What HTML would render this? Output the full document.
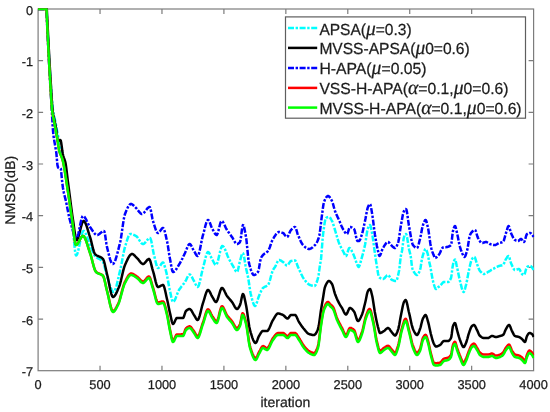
<!DOCTYPE html>
<html><head><meta charset="utf-8"><title>NMSD curves</title>
<style>html,body{margin:0;padding:0;background:#fff}svg{display:block}text{font-family:"Liberation Sans",Arial,Helvetica,sans-serif;fill:#1c1c1c;stroke:#1c1c1c;stroke-width:.25px;text-rendering:geometricPrecision}.gk{font-family:"Liberation Serif","DejaVu Serif",serif;font-style:italic;font-size:20px}</style></head><body>
<svg width="550" height="412" viewBox="0 0 550 412">
<rect width="550" height="412" fill="#fff"/>
<defs><clipPath id="c"><rect x="37.5" y="8.3" width="496.7" height="362.4"/></clipPath></defs>
<g stroke="#7c7c7c" stroke-width="1.2" fill="none">
<rect x="38.1" y="9.0" width="495.5" height="361.7"/>
<path d="M100.04 370.70v-5.0M100.04 9.00v5.0M161.97 370.70v-5.0M161.97 9.00v5.0M223.91 370.70v-5.0M223.91 9.00v5.0M285.85 370.70v-5.0M285.85 9.00v5.0M347.79 370.70v-5.0M347.79 9.00v5.0M409.73 370.70v-5.0M409.73 9.00v5.0M471.66 370.70v-5.0M471.66 9.00v5.0M38.10 60.67h5.0M533.60 60.67h-5.0M38.10 112.34h5.0M533.60 112.34h-5.0M38.10 164.01h5.0M533.60 164.01h-5.0M38.10 215.69h5.0M533.60 215.69h-5.0M38.10 267.36h5.0M533.60 267.36h-5.0M38.10 319.03h5.0M533.60 319.03h-5.0"/>
</g>
<g clip-path="url(#c)" fill="none" stroke-linejoin="round" stroke-width="2.5">
<path d="M38.1 9.0L46.6 9.0L47.1 19.8L47.6 30.0L48.1 39.9L48.6 49.2L49.1 58.0L49.6 66.4L50.1 74.2L50.6 81.4L51.1 88.5L51.6 95.4L52.1 101.7L52.6 107.2L53.1 111.3L53.6 114.2L54.1 116.3L54.6 118.3L55.1 120.5L55.6 123.0L56.1 125.6L56.6 128.3L57.1 130.9L57.6 133.6L58.1 136.1L58.6 138.8L59.1 142.1L59.6 146.1L60.1 149.5L60.6 151.7L61.1 153.3L61.6 154.7L62.1 155.9L62.6 157.3L63.1 158.8L63.6 160.9L64.1 163.3L64.6 166.2L65.1 169.3L65.6 172.7L66.1 176.3L66.6 179.9L67.1 183.6L67.6 187.2L68.1 190.7L68.6 194.2L69.1 197.7L69.6 201.2L70.1 204.8L70.6 208.5L71.1 212.2L71.6 216.0L72.1 220.0L72.6 224.6L73.1 230.1L73.6 235.9L74.1 241.8L74.6 247.1L75.1 251.5L75.6 254.4L76.1 255.5L76.6 255.2L77.1 254.3L77.6 252.9L78.1 251.1L78.6 249.0L79.1 246.7L79.6 244.2L80.1 241.8L80.6 239.3L81.1 237.1L81.6 235.0L82.1 233.3L82.6 232.0L83.1 231.2L83.6 231.0L84.1 231.2L84.6 231.7L85.1 232.5L85.6 233.4L86.1 234.6L86.6 235.8L87.1 237.2L87.6 238.6L88.1 240.0L88.6 241.5L89.1 242.8L89.6 244.1L90.1 245.2L90.6 246.4L91.1 247.6L91.6 248.9L92.1 250.1L92.6 251.4L93.1 252.6L93.6 253.7L94.1 254.6L94.6 255.5L95.1 256.1L95.6 256.6L96.1 257.1L96.6 257.5L97.1 257.8L97.6 258.1L98.1 258.4L98.6 258.6L99.1 258.9L99.6 259.1L100.1 259.4L100.6 259.7L101.1 260.1L101.6 260.5L102.1 261.0L102.6 261.5L103.1 262.1L103.6 263.2L104.1 264.7L104.6 266.6L105.1 268.6L105.6 270.8L106.1 272.8L106.6 274.7L107.1 276.3L107.6 277.8L108.1 279.4L108.6 281.0L109.1 282.7L109.6 284.3L110.1 285.8L110.6 287.3L111.1 288.6L111.6 289.7L112.1 290.7L112.6 291.4L113.1 291.8L113.6 292.0L114.1 291.8L114.6 291.1L115.1 290.1L115.6 288.8L116.1 287.2L116.6 285.4L117.1 283.4L117.6 281.3L118.1 279.1L118.6 276.9L119.1 274.7L119.6 272.6L120.1 270.6L120.6 268.4L121.1 266.0L121.6 263.4L122.1 260.7L122.6 258.0L123.1 255.4L123.6 252.8L124.1 250.5L124.6 248.4L125.1 246.7L125.6 245.0L126.1 243.4L126.6 241.7L127.1 240.1L127.6 238.6L128.1 237.3L128.6 236.1L129.1 235.1L129.6 234.4L130.1 234.1L130.6 234.0L131.1 234.0L131.6 234.1L132.1 234.2L132.6 234.4L133.1 234.6L133.6 234.8L134.1 235.0L134.6 235.3L135.1 235.5L135.6 235.8L136.1 236.1L136.6 236.4L137.1 236.9L137.6 237.6L138.1 238.3L138.6 239.0L139.1 239.8L139.6 240.6L140.1 241.4L140.6 242.1L141.1 242.8L141.6 243.3L142.1 243.7L142.6 243.9L143.1 244.0L143.6 243.9L144.1 243.6L144.6 243.2L145.1 242.7L145.6 242.1L146.1 241.5L146.6 240.9L147.1 240.2L147.6 239.6L148.1 239.1L148.6 238.6L149.1 238.3L149.6 238.1L150.1 238.0L150.6 238.8L151.1 240.3L151.6 242.6L152.1 245.2L152.6 248.0L153.1 250.8L153.6 253.3L154.1 255.4L154.6 257.4L155.1 259.5L155.6 261.7L156.1 263.7L156.6 265.5L157.1 266.9L157.6 267.8L158.1 268.0L158.6 267.8L159.1 267.3L159.6 266.7L160.1 265.9L160.6 265.1L161.1 264.3L161.6 263.6L162.1 263.0L162.6 262.6L163.1 262.5L163.6 263.0L164.1 264.2L164.6 265.8L165.1 267.6L165.6 269.5L166.1 271.4L166.6 273.4L167.1 275.8L167.6 278.5L168.1 281.2L168.6 284.0L169.1 286.7L169.6 289.2L170.1 291.4L170.6 293.8L171.1 296.2L171.6 298.5L172.1 300.4L172.6 301.7L173.1 302.0L173.6 301.8L174.1 301.2L174.6 300.4L175.1 299.4L175.6 298.2L176.1 296.9L176.6 295.6L177.1 294.3L177.6 293.0L178.1 291.8L178.6 290.7L179.1 289.8L179.6 289.1L180.1 288.4L180.6 287.7L181.1 287.0L181.6 286.4L182.1 285.8L182.6 285.2L183.1 284.5L183.6 283.9L184.1 283.3L184.6 282.6L185.1 281.8L185.6 281.0L186.1 280.0L186.6 278.9L187.1 277.8L187.6 276.8L188.1 275.9L188.6 275.2L189.1 274.7L189.6 274.5L190.1 274.7L190.6 275.1L191.1 275.7L191.6 276.5L192.1 277.4L192.6 278.4L193.1 279.4L193.6 280.3L194.1 281.2L194.6 282.1L195.1 283.2L195.6 284.3L196.1 285.3L196.6 286.2L197.1 286.8L197.6 287.0L198.1 286.7L198.6 285.8L199.1 284.4L199.6 282.7L200.1 280.6L200.6 278.4L201.1 276.1L201.6 273.7L202.1 271.5L202.6 269.4L203.1 267.7L203.6 265.8L204.1 263.8L204.6 261.7L205.1 259.5L205.6 257.5L206.1 255.7L206.6 254.1L207.1 252.9L207.6 252.2L208.1 252.0L208.6 252.3L209.1 252.9L209.6 253.8L210.1 254.9L210.6 256.1L211.1 257.2L211.6 258.3L212.1 259.2L212.6 260.1L213.1 261.0L213.6 262.0L214.1 263.0L214.6 263.8L215.1 264.5L215.6 264.9L216.1 265.0L216.6 264.5L217.1 263.5L217.6 262.0L218.1 260.2L218.6 258.1L219.1 255.9L219.6 253.7L220.1 251.6L220.6 249.7L221.1 248.0L221.6 246.8L222.1 246.1L222.6 246.0L223.1 246.3L223.6 246.8L224.1 247.5L224.6 248.5L225.1 249.5L225.6 250.7L226.1 252.0L226.6 253.3L227.1 254.6L227.6 255.9L228.1 257.1L228.6 258.2L229.1 259.2L229.6 260.1L230.1 261.0L230.6 261.9L231.1 262.8L231.6 263.7L232.1 264.5L232.6 265.3L233.1 266.2L233.6 267.1L234.1 268.0L234.6 269.0L235.1 270.0L235.6 270.8L236.1 271.5L236.6 271.9L237.1 272.0L237.6 271.2L238.1 269.5L238.6 267.2L239.1 264.8L239.6 262.5L240.1 260.7L240.6 258.9L241.1 257.0L241.6 255.2L242.1 253.8L242.6 253.1L243.1 253.3L243.6 254.7L244.1 257.0L244.6 259.9L245.1 263.0L245.6 266.0L246.1 268.5L246.6 270.6L247.1 272.8L247.6 275.1L248.1 277.5L248.6 280.5L249.1 283.8L249.6 287.1L250.1 290.4L250.6 293.2L251.1 295.4L251.6 297.3L252.1 299.3L252.6 301.1L253.1 302.7L253.6 304.1L254.1 305.2L254.6 305.8L255.1 306.0L255.6 305.6L256.1 304.6L256.6 303.3L257.1 301.8L257.6 300.1L258.1 298.5L258.6 297.0L259.1 295.8L259.6 294.6L260.1 293.4L260.6 292.3L261.1 291.1L261.6 290.1L262.1 289.2L262.6 288.4L263.1 287.9L263.6 287.5L264.1 287.2L264.6 286.9L265.1 286.7L265.6 286.5L266.1 286.3L266.6 286.0L267.1 285.7L267.6 285.4L268.1 284.9L268.6 284.1L269.1 282.8L269.6 281.3L270.1 279.6L270.6 277.7L271.1 275.8L271.6 274.0L272.1 272.3L272.6 270.9L273.1 269.8L273.6 269.0L274.1 268.3L274.6 267.6L275.1 266.8L275.6 265.9L276.1 264.8L276.6 263.6L277.1 262.5L277.6 261.5L278.1 260.7L278.6 260.1L279.1 260.0L279.6 260.1L280.1 260.2L280.6 260.5L281.1 260.7L281.6 261.1L282.1 261.4L282.6 261.7L283.1 262.1L283.6 262.5L284.1 263.0L284.6 263.6L285.1 264.2L285.6 264.7L286.1 265.1L286.6 265.4L287.1 265.5L287.6 265.2L288.1 264.7L288.6 264.0L289.1 263.2L289.6 262.4L290.1 261.7L290.6 261.2L291.1 261.0L291.6 260.9L292.1 260.8L292.6 260.7L293.1 260.6L293.6 260.6L294.1 260.5L294.6 260.5L295.1 260.5L295.6 261.0L296.1 261.9L296.6 263.2L297.1 264.7L297.6 266.1L298.1 267.2L298.6 268.3L299.1 269.4L299.6 270.5L300.1 271.6L300.6 272.7L301.1 273.8L301.6 274.8L302.1 275.8L302.6 276.8L303.1 277.6L303.6 278.4L304.1 279.1L304.6 279.8L305.1 280.5L305.6 281.1L306.1 281.7L306.6 282.3L307.1 282.8L307.6 283.3L308.1 283.8L308.6 284.2L309.1 284.6L309.6 284.8L310.1 285.0L310.6 285.2L311.1 285.4L311.6 285.5L312.1 285.7L312.6 285.8L313.1 285.9L313.6 286.0L314.1 286.0L314.6 286.0L315.1 285.6L315.6 284.9L316.1 283.8L316.6 282.5L317.1 281.0L317.6 279.4L318.1 277.6L318.6 275.0L319.1 271.4L319.6 267.7L320.1 264.4L320.6 261.6L321.1 258.2L321.6 252.5L322.1 245.6L322.6 239.0L323.1 234.2L323.6 230.3L324.1 226.5L324.6 223.2L325.1 220.5L325.6 218.7L326.1 217.9L326.6 217.7L327.1 217.4L327.6 217.2L328.1 217.1L328.6 217.0L329.1 217.0L329.6 217.2L330.1 217.7L330.6 218.5L331.1 219.3L331.6 220.3L332.1 221.2L332.6 222.3L333.1 223.8L333.6 225.4L334.1 227.0L334.6 228.7L335.1 230.3L335.6 232.0L336.1 233.7L336.6 235.4L337.1 237.2L337.6 238.9L338.1 240.5L338.6 241.9L339.1 243.2L339.6 244.4L340.1 245.5L340.6 246.5L341.1 247.5L341.6 248.5L342.1 249.4L342.6 250.3L343.1 251.2L343.6 252.2L344.1 253.3L344.6 254.4L345.1 255.3L345.6 255.8L346.1 256.0L346.6 255.3L347.1 254.0L347.6 252.4L348.1 250.6L348.6 249.1L349.1 248.2L349.6 248.0L350.1 248.3L350.6 248.9L351.1 249.7L351.6 250.6L352.1 251.7L352.6 252.7L353.1 253.7L353.6 254.8L354.1 256.1L354.6 257.4L355.1 258.9L355.6 260.3L356.1 261.7L356.6 263.1L357.1 264.2L357.6 265.5L358.1 266.6L358.6 267.0L359.1 266.5L359.6 265.5L360.1 264.0L360.6 262.2L361.1 260.3L361.6 258.4L362.1 256.7L362.6 254.9L363.1 253.1L363.6 251.1L364.1 249.0L364.6 246.8L365.1 244.5L365.6 241.7L366.1 238.3L366.6 234.9L367.1 231.8L367.6 229.3L368.1 227.8L368.6 226.7L369.1 225.8L369.6 225.2L370.1 225.0L370.6 226.1L371.1 228.2L371.6 230.9L372.1 233.5L372.6 236.5L373.1 239.9L373.6 243.6L374.1 247.4L374.6 251.2L375.1 254.7L375.6 258.1L376.1 261.4L376.6 264.6L377.1 267.6L377.6 270.7L378.1 273.7L378.6 276.1L379.1 277.1L379.6 277.6L380.1 277.9L380.6 278.3L381.1 278.5L381.6 278.8L382.1 278.9L382.6 279.0L383.1 279.0L383.6 278.8L384.1 278.5L384.6 278.0L385.1 277.5L385.6 276.9L386.1 276.3L386.6 275.8L387.1 275.3L387.6 275.1L388.1 275.0L388.6 275.3L389.1 275.8L389.6 276.6L390.1 277.5L390.6 278.3L391.1 279.1L391.6 279.7L392.1 280.0L392.6 280.2L393.1 280.4L393.6 280.6L394.1 280.7L394.6 280.9L395.1 280.9L395.6 281.0L396.1 281.0L396.6 280.4L397.1 279.2L397.6 277.4L398.1 275.3L398.6 272.9L399.1 270.5L399.6 266.8L400.1 262.1L400.6 257.7L401.1 254.5L401.6 252.6L402.1 250.5L402.6 246.8L403.1 242.5L403.6 238.8L404.1 236.8L404.6 235.6L405.1 234.7L405.6 234.2L406.1 234.0L406.6 235.1L407.1 237.4L407.6 240.4L408.1 243.7L408.6 246.9L409.1 249.5L409.6 251.5L410.1 253.5L410.6 255.8L411.1 258.7L411.6 263.8L412.1 267.4L412.6 269.1L413.1 270.4L413.6 271.4L414.1 272.1L414.6 272.9L415.1 273.6L415.6 274.2L416.1 274.6L416.6 274.9L417.1 275.0L417.6 274.7L418.1 274.2L418.6 273.3L419.1 272.2L419.6 271.0L420.1 269.7L420.6 267.4L421.1 264.3L421.6 261.1L422.1 258.5L422.6 256.4L423.1 254.7L423.6 253.1L424.1 251.6L424.6 250.3L425.1 249.3L425.6 249.0L426.1 249.4L426.6 250.3L427.1 251.8L427.6 253.5L428.1 255.4L428.6 258.6L429.1 261.5L429.6 263.4L430.1 265.5L430.6 268.0L431.1 270.9L431.6 273.9L432.1 276.8L432.6 279.4L433.1 281.4L433.6 283.2L434.1 285.0L434.6 286.6L435.1 287.9L435.6 288.8L436.1 289.0L436.6 288.5L437.1 287.9L437.6 287.6L438.1 287.2L438.6 286.9L439.1 286.6L439.6 286.3L440.1 285.9L440.6 285.4L441.1 284.8L441.6 284.1L442.1 283.5L442.6 282.9L443.1 282.4L443.6 282.1L444.1 282.0L444.6 282.0L445.1 282.0L445.6 282.0L446.1 282.0L446.6 282.0L447.1 282.0L447.6 282.0L448.1 282.0L448.6 281.8L449.1 281.4L449.6 280.7L450.1 279.9L450.6 278.9L451.1 277.7L451.6 274.9L452.1 270.7L452.6 266.7L453.1 264.1L453.6 262.3L454.1 260.8L454.6 259.8L455.1 259.5L455.6 260.6L456.1 262.7L456.6 265.2L457.1 267.4L457.6 269.7L458.1 272.1L458.6 274.7L459.1 277.1L459.6 279.4L460.1 281.4L460.6 283.4L461.1 285.4L461.6 287.4L462.1 289.2L462.6 290.7L463.1 291.6L463.6 292.0L464.1 291.5L464.6 290.3L465.1 288.5L465.6 286.5L466.1 284.6L466.6 282.4L467.1 279.9L467.6 277.2L468.1 274.4L468.6 271.8L469.1 269.6L469.6 267.4L470.1 265.1L470.6 263.0L471.1 261.2L471.6 259.7L472.1 258.9L472.6 258.2L473.1 257.7L473.6 257.3L474.1 257.0L474.6 257.1L475.1 257.9L475.6 259.4L476.1 261.1L476.6 262.8L477.1 264.3L477.6 265.6L478.1 266.9L478.6 268.3L479.1 269.4L479.6 270.4L480.1 271.1L480.6 271.7L481.1 272.2L481.6 272.7L482.1 273.2L482.6 273.5L483.1 273.8L483.6 274.0L484.1 274.0L484.6 273.9L485.1 273.7L485.6 273.5L486.1 273.2L486.6 272.9L487.1 272.6L487.6 272.2L488.1 271.9L488.6 271.7L489.1 271.4L489.6 271.1L490.1 270.8L490.6 270.4L491.1 270.1L491.6 269.8L492.1 269.5L492.6 269.2L493.1 268.9L493.6 268.7L494.1 268.4L494.6 268.1L495.1 267.8L495.6 267.5L496.1 267.3L496.6 267.0L497.1 266.8L497.6 266.5L498.1 266.3L498.6 266.1L499.1 266.0L499.6 265.8L500.1 265.7L500.6 265.6L501.1 265.5L501.6 265.5L502.1 265.3L502.6 265.2L503.1 264.9L503.6 264.3L504.1 263.3L504.6 262.1L505.1 260.9L505.6 259.7L506.1 258.9L506.6 258.1L507.1 257.3L507.6 256.6L508.1 256.2L508.6 256.0L509.1 256.6L509.6 258.1L510.1 260.0L510.6 261.9L511.1 263.2L511.6 264.4L512.1 265.6L512.6 266.8L513.1 267.8L513.6 268.7L514.1 269.4L514.6 269.9L515.1 270.0L515.6 269.9L516.1 269.8L516.6 269.6L517.1 269.5L517.6 269.3L518.1 269.1L518.6 269.0L519.1 269.0L519.6 269.4L520.1 270.3L520.6 271.5L521.1 272.6L521.6 273.5L522.1 274.1L522.6 274.4L523.1 274.7L523.6 274.9L524.1 275.0L524.6 274.2L525.1 272.7L525.6 270.8L526.1 269.0L526.6 267.6L527.1 266.9L527.6 266.7L528.1 266.4L528.6 266.2L529.1 266.1L529.6 266.0L530.1 266.0L530.6 266.1L531.1 266.4L531.6 266.9L532.1 267.5L532.6 268.3L533.1 269.1L533.6 270.0" stroke="#00ffff" stroke-dasharray="6 1.6 2.4 1.6"/>
<path d="M38.1 9.0L46.8 9.0L47.3 19.5L47.8 29.6L48.3 39.4L48.8 48.8L49.3 57.9L49.8 66.7L50.3 75.1L50.8 83.3L51.3 91.8L51.8 100.0L52.3 107.0L52.8 112.0L53.3 115.0L53.8 117.3L54.3 119.5L54.8 122.0L55.3 124.5L55.8 127.1L56.3 130.0L56.8 133.8L57.3 139.5L57.8 141.0L58.3 140.8L58.8 140.6L59.3 140.3L59.8 140.1L60.3 140.0L60.8 140.7L61.3 143.3L61.8 146.9L62.3 150.8L62.8 154.0L63.3 156.1L63.8 157.7L64.3 159.0L64.8 160.4L65.3 162.1L65.8 164.6L66.3 168.2L66.8 172.4L67.3 176.7L67.8 180.8L68.3 184.6L68.8 188.5L69.3 192.3L69.8 196.2L70.3 200.1L70.8 204.1L71.3 207.9L71.8 211.7L72.3 215.3L72.8 218.7L73.3 222.0L73.8 225.6L74.3 229.3L74.8 232.9L75.3 236.0L75.8 238.4L76.3 239.8L76.8 240.0L77.3 239.5L77.8 238.5L78.3 237.2L78.8 235.5L79.3 233.7L79.8 231.7L80.3 229.7L80.8 227.7L81.3 225.8L81.8 224.1L82.3 222.7L82.8 221.7L83.3 221.1L83.8 221.0L84.3 221.3L84.8 221.9L85.3 222.8L85.8 223.9L86.3 225.2L86.8 226.7L87.3 228.2L87.8 229.9L88.3 231.6L88.8 233.2L89.3 234.9L89.8 236.4L90.3 237.9L90.8 239.7L91.3 241.6L91.8 243.7L92.3 245.8L92.8 247.8L93.3 249.7L93.8 251.4L94.3 252.8L94.8 253.7L95.3 254.3L95.8 254.8L96.3 255.2L96.8 255.5L97.3 255.8L97.8 256.0L98.3 256.2L98.8 256.4L99.3 256.6L99.8 256.8L100.3 257.0L100.8 257.2L101.3 257.5L101.8 257.9L102.3 258.3L102.8 258.8L103.3 259.5L103.8 260.7L104.3 262.3L104.8 264.3L105.3 266.5L105.8 268.8L106.3 271.1L106.8 273.2L107.3 275.2L107.8 277.4L108.3 279.8L108.8 282.3L109.3 284.9L109.8 287.4L110.3 289.8L110.8 291.9L111.3 293.8L111.8 295.3L112.3 296.4L112.8 296.9L113.3 297.0L113.8 296.7L114.3 296.3L114.8 295.7L115.3 295.0L115.8 294.1L116.3 293.1L116.8 292.1L117.3 291.0L117.8 289.8L118.3 288.6L118.8 287.5L119.3 286.3L119.8 284.8L120.3 283.0L120.8 281.1L121.3 279.0L121.8 276.8L122.3 274.6L122.8 272.5L123.3 270.4L123.8 268.6L124.3 266.9L124.8 265.5L125.3 264.3L125.8 263.2L126.3 262.1L126.8 261.0L127.3 259.9L127.8 258.9L128.3 257.9L128.8 257.0L129.3 256.2L129.8 255.5L130.3 254.9L130.8 254.5L131.3 254.2L131.8 254.0L132.3 254.0L132.8 254.2L133.3 254.4L133.8 254.8L134.3 255.3L134.8 255.7L135.3 256.3L135.8 256.8L136.3 257.3L136.8 257.8L137.3 258.3L137.8 258.8L138.3 259.4L138.8 260.1L139.3 260.7L139.8 261.4L140.3 262.0L140.8 262.6L141.3 263.1L141.8 263.5L142.3 263.8L142.8 264.0L143.3 264.0L143.8 263.8L144.3 263.4L144.8 262.9L145.3 262.4L145.8 261.7L146.3 261.1L146.8 260.5L147.3 260.0L147.8 259.5L148.3 259.2L148.8 259.0L149.3 259.1L149.8 259.9L150.3 261.1L150.8 262.7L151.3 264.6L151.8 266.6L152.3 268.6L152.8 270.4L153.3 272.0L153.8 273.8L154.3 275.9L154.8 278.0L155.3 280.1L155.8 282.1L156.3 283.9L156.8 285.4L157.3 286.4L157.8 286.9L158.3 287.0L158.8 286.9L159.3 286.7L159.8 286.4L160.3 286.1L160.8 285.8L161.3 285.5L161.8 285.3L162.3 285.1L162.8 285.0L163.3 285.1L163.8 285.9L164.3 287.3L164.8 289.2L165.3 291.3L165.8 293.6L166.3 295.9L166.8 298.2L167.3 300.3L167.8 302.5L168.3 305.0L168.8 307.5L169.3 309.9L169.8 312.2L170.3 314.3L170.8 316.7L171.3 319.1L171.8 321.3L172.3 323.0L172.8 323.9L173.3 323.9L173.8 323.4L174.3 322.5L174.8 321.4L175.3 320.3L175.8 319.3L176.3 318.5L176.8 318.0L177.3 318.0L177.8 318.0L178.3 318.0L178.8 318.0L179.3 318.0L179.8 318.0L180.3 318.0L180.8 318.0L181.3 318.0L181.8 318.0L182.3 318.0L182.8 318.0L183.3 317.8L183.8 316.9L184.3 315.5L184.8 313.9L185.3 312.3L185.8 311.2L186.3 310.7L186.8 310.3L187.3 309.9L187.8 309.6L188.3 309.3L188.8 309.1L189.3 309.0L189.8 309.0L190.3 309.3L190.8 309.8L191.3 310.4L191.8 311.2L192.3 312.1L192.8 313.0L193.3 313.9L193.8 314.7L194.3 315.4L194.8 316.3L195.3 317.2L195.8 318.1L196.3 318.9L196.8 319.6L197.3 319.9L197.8 320.0L198.3 319.4L198.8 318.4L199.3 317.0L199.8 315.3L200.3 313.4L200.8 311.4L201.3 309.3L201.8 307.2L202.3 305.3L202.8 303.6L203.3 302.1L203.8 300.5L204.3 298.8L204.8 297.1L205.3 295.4L205.8 293.8L206.3 292.4L206.8 291.3L207.3 290.5L207.8 290.0L208.3 290.1L208.8 290.4L209.3 291.1L209.8 291.9L210.3 292.9L210.8 293.9L211.3 295.0L211.8 296.0L212.3 296.8L212.8 297.6L213.3 298.5L213.8 299.5L214.3 300.3L214.8 301.1L215.3 301.7L215.8 302.0L216.3 301.9L216.8 301.3L217.3 300.3L217.8 299.0L218.3 297.4L218.8 295.7L219.3 294.0L219.8 292.3L220.3 290.7L220.8 289.5L221.3 288.5L221.8 288.0L222.3 288.1L222.8 288.4L223.3 289.0L223.8 289.8L224.3 290.7L224.8 291.8L225.3 292.8L225.8 293.9L226.3 294.9L226.8 295.7L227.3 296.4L227.8 297.0L228.3 297.7L228.8 298.2L229.3 298.8L229.8 299.4L230.3 300.0L230.8 300.5L231.3 301.1L231.8 301.7L232.3 302.4L232.8 303.2L233.3 304.1L233.8 305.0L234.3 305.9L234.8 306.8L235.3 307.6L235.8 308.3L236.3 308.7L236.8 309.0L237.3 308.9L237.8 308.6L238.3 308.0L238.8 307.3L239.3 306.4L239.8 305.4L240.3 304.2L240.8 302.2L241.3 299.8L241.8 297.3L242.3 295.3L242.8 294.1L243.3 294.2L243.8 295.2L244.3 296.9L244.8 299.2L245.3 301.6L245.8 304.1L246.3 306.5L246.8 309.5L247.3 312.9L247.8 316.6L248.3 320.2L248.8 323.7L249.3 326.8L249.8 329.2L250.3 331.0L250.8 332.8L251.3 334.4L251.8 336.0L252.3 337.6L252.8 338.9L253.3 340.2L253.8 341.2L254.3 342.0L254.8 342.6L255.3 342.9L255.8 342.9L256.3 342.4L256.8 341.4L257.3 340.2L257.8 338.8L258.3 337.5L258.8 336.3L259.3 335.5L259.8 334.7L260.3 333.8L260.8 333.0L261.3 332.3L261.8 331.7L262.3 331.2L262.8 331.0L263.3 331.0L263.8 331.0L264.3 331.0L264.8 331.0L265.3 331.0L265.8 331.0L266.3 331.0L266.8 331.0L267.3 330.9L267.8 330.6L268.3 330.0L268.8 329.2L269.3 328.2L269.8 327.1L270.3 325.9L270.8 324.7L271.3 323.5L271.8 322.3L272.3 321.2L272.8 320.3L273.3 319.5L273.8 318.7L274.3 317.8L274.8 317.0L275.3 316.1L275.8 315.3L276.3 314.7L276.8 314.1L277.3 313.7L277.8 313.5L278.3 313.5L278.8 313.6L279.3 313.6L279.8 313.8L280.3 313.9L280.8 314.1L281.3 314.3L281.8 314.5L282.3 314.7L282.8 314.9L283.3 315.2L283.8 315.5L284.3 316.0L284.8 316.5L285.3 317.0L285.8 317.5L286.3 317.9L286.8 318.3L287.3 318.5L287.8 318.5L288.3 318.1L288.8 317.5L289.3 316.8L289.8 316.0L290.3 315.4L290.8 315.0L291.3 315.0L291.8 315.0L292.3 315.0L292.8 315.0L293.3 315.0L293.8 315.0L294.3 315.0L294.8 315.0L295.3 315.1L295.8 315.5L296.3 316.3L296.8 317.3L297.3 318.4L297.8 319.6L298.3 320.7L298.8 321.7L299.3 322.5L299.8 323.2L300.3 324.0L300.8 324.7L301.3 325.5L301.8 326.2L302.3 326.9L302.8 327.5L303.3 328.2L303.8 328.8L304.3 329.4L304.8 330.0L305.3 330.6L305.8 331.2L306.3 331.8L306.8 332.4L307.3 332.9L307.8 333.3L308.3 333.7L308.8 333.9L309.3 334.1L309.8 334.3L310.3 334.4L310.8 334.5L311.3 334.7L311.8 334.8L312.3 334.9L312.8 334.9L313.3 335.0L313.8 335.0L314.3 335.0L314.8 334.7L315.3 334.2L315.8 333.6L316.3 332.7L316.8 331.8L317.3 330.7L317.8 329.5L318.3 328.0L318.8 325.6L319.3 322.3L319.8 318.6L320.3 314.8L320.8 311.3L321.3 308.2L321.8 305.1L322.3 302.1L322.8 299.2L323.3 296.2L323.8 293.0L324.3 289.9L324.8 287.6L325.3 286.3L325.8 285.1L326.3 284.0L326.8 283.1L327.3 282.3L327.8 281.7L328.3 281.2L328.8 281.0L329.3 281.0L329.8 281.3L330.3 281.7L330.8 282.3L331.3 283.0L331.8 283.7L332.3 284.6L332.8 286.0L333.3 287.8L333.8 289.8L334.3 291.7L334.8 293.4L335.3 294.8L335.8 296.1L336.3 297.3L336.8 298.5L337.3 299.6L337.8 300.6L338.3 301.6L338.8 302.6L339.3 303.6L339.8 304.4L340.3 305.3L340.8 306.1L341.3 306.9L341.8 307.7L342.3 308.5L342.8 309.5L343.3 310.6L343.8 311.7L344.3 312.7L344.8 313.5L345.3 314.1L345.8 314.5L346.3 314.4L346.8 313.8L347.3 312.9L347.8 311.7L348.3 310.5L348.8 309.4L349.3 308.5L349.8 308.0L350.3 308.0L350.8 308.2L351.3 308.5L351.8 308.9L352.3 309.4L352.8 310.0L353.3 310.6L353.8 311.2L354.3 312.0L354.8 313.1L355.3 314.6L355.8 316.2L356.3 317.8L356.8 319.3L357.3 320.4L357.8 320.9L358.3 320.9L358.8 320.6L359.3 320.0L359.8 319.3L360.3 318.3L360.8 317.3L361.3 316.1L361.8 315.0L362.3 313.7L362.8 312.2L363.3 310.4L363.8 308.4L364.3 306.3L364.8 304.3L365.3 302.2L365.8 299.9L366.3 297.4L366.8 294.9L367.3 292.9L367.8 291.4L368.3 290.5L368.8 289.8L369.3 289.3L369.8 289.0L370.3 289.2L370.8 290.4L371.3 292.2L371.8 294.2L372.3 296.3L372.8 299.0L373.3 302.2L373.8 305.5L374.3 308.8L374.8 311.9L375.3 314.6L375.8 317.2L376.3 319.7L376.8 322.0L377.3 324.2L377.8 326.3L378.3 328.1L378.8 330.1L379.3 331.9L379.8 332.9L380.3 333.0L380.8 332.9L381.3 332.7L381.8 332.4L382.3 332.1L382.8 331.8L383.3 331.4L383.8 331.1L384.3 330.8L384.8 330.4L385.3 329.9L385.8 329.4L386.3 328.9L386.8 328.5L387.3 328.2L387.8 328.0L388.3 328.1L388.8 328.3L389.3 328.8L389.8 329.4L390.3 330.2L390.8 330.9L391.3 331.6L391.8 332.3L392.3 332.8L392.8 333.5L393.3 334.1L393.8 334.7L394.3 335.2L394.8 335.5L395.3 335.4L395.8 335.0L396.3 334.2L396.8 333.1L397.3 331.9L397.8 330.5L398.3 329.1L398.8 326.9L399.3 324.4L399.8 321.5L400.3 318.6L400.8 316.0L401.3 313.6L401.8 311.0L402.3 308.4L402.8 306.0L403.3 304.0L403.8 302.4L404.3 301.5L404.8 300.6L405.3 300.1L405.8 300.1L406.3 300.9L406.8 302.5L407.3 304.6L407.8 307.0L408.3 309.4L408.8 311.7L409.3 313.7L409.8 315.9L410.3 318.3L410.8 320.7L411.3 323.0L411.8 325.1L412.3 327.0L412.8 328.5L413.3 329.7L413.8 330.8L414.3 331.8L414.8 332.7L415.3 333.6L415.8 334.3L416.3 334.7L416.8 335.0L417.3 334.9L417.8 334.3L418.3 333.4L418.8 332.2L419.3 330.9L419.8 329.5L420.3 328.1L420.8 326.4L421.3 324.3L421.8 322.3L422.3 320.4L422.8 318.9L423.3 317.9L423.8 317.0L424.3 316.1L424.8 315.5L425.3 315.1L425.8 315.1L426.3 315.9L426.8 317.3L427.3 319.0L427.8 320.8L428.3 322.6L428.8 324.6L429.3 326.9L429.8 329.3L430.3 331.6L430.8 333.7L431.3 335.6L431.8 337.5L432.3 339.3L432.8 341.0L433.3 342.4L433.8 343.6L434.3 344.5L434.8 345.4L435.3 346.1L435.8 346.5L436.3 346.5L436.8 346.4L437.3 346.3L437.8 346.1L438.3 345.9L438.8 345.6L439.3 345.4L439.8 345.1L440.3 344.8L440.8 344.3L441.3 343.7L441.8 343.0L442.3 342.3L442.8 341.7L443.3 341.3L443.8 341.0L444.3 341.0L444.8 341.0L445.3 341.0L445.8 341.0L446.3 341.0L446.8 341.0L447.3 341.0L447.8 341.0L448.3 341.0L448.8 340.8L449.3 340.4L449.8 339.8L450.3 339.2L450.8 338.4L451.3 337.0L451.8 333.7L452.3 329.8L452.8 326.7L453.3 325.3L453.8 324.3L454.3 323.5L454.8 323.0L455.3 323.3L455.8 324.8L456.3 327.0L456.8 329.2L457.3 331.0L457.8 332.8L458.3 334.6L458.8 336.4L459.3 338.0L459.8 339.5L460.3 340.8L460.8 342.1L461.3 343.4L461.8 344.6L462.3 345.7L462.8 346.5L463.3 346.9L463.8 347.0L464.3 346.5L464.8 345.7L465.3 344.6L465.8 343.4L466.3 342.3L466.8 340.7L467.3 339.0L467.8 337.1L468.3 335.2L468.8 333.6L469.3 332.2L469.8 330.7L470.3 329.3L470.8 328.0L471.3 326.9L471.8 326.2L472.3 325.8L472.8 325.4L473.3 325.2L473.8 325.0L474.3 325.1L474.8 325.6L475.3 326.4L475.8 327.5L476.3 328.6L476.8 329.6L477.3 330.6L477.8 331.7L478.3 332.9L478.8 334.1L479.3 335.1L479.8 335.8L480.3 336.2L480.8 336.6L481.3 337.0L481.8 337.3L482.3 337.6L482.8 337.8L483.3 337.9L483.8 338.0L484.3 338.0L484.8 338.0L485.3 338.0L485.8 338.0L486.3 338.0L486.8 338.0L487.3 338.0L487.8 338.0L488.3 338.0L488.8 337.8L489.3 337.5L489.8 337.1L490.3 336.8L490.8 336.4L491.3 336.2L491.8 336.0L492.3 336.0L492.8 336.1L493.3 336.2L493.8 336.4L494.3 336.6L494.8 336.8L495.3 336.9L495.8 337.0L496.3 337.0L496.8 336.9L497.3 336.8L497.8 336.7L498.3 336.6L498.8 336.4L499.3 336.2L499.8 336.1L500.3 335.9L500.8 335.8L501.3 335.7L501.8 335.5L502.3 335.3L502.8 335.1L503.3 334.7L503.8 334.0L504.3 332.9L504.8 331.6L505.3 330.4L505.8 329.3L506.3 328.5L506.8 327.6L507.3 326.7L507.8 325.9L508.3 325.4L508.8 325.0L509.3 325.1L509.8 325.8L510.3 326.8L510.8 328.1L511.3 329.4L511.8 330.6L512.3 331.6L512.8 332.6L513.3 333.6L513.8 334.6L514.3 335.4L514.8 335.9L515.3 336.1L515.8 336.3L516.3 336.4L516.8 336.5L517.3 336.6L517.8 336.7L518.3 336.8L518.8 336.9L519.3 337.1L519.8 337.4L520.3 337.7L520.8 338.1L521.3 338.4L521.8 338.8L522.3 339.3L522.8 339.9L523.3 340.5L523.8 341.2L524.3 341.7L524.8 342.0L525.3 341.7L525.8 340.2L526.3 338.2L526.8 336.5L527.3 335.5L527.8 334.6L528.3 333.8L528.8 333.3L529.3 333.0L529.8 333.0L530.3 333.1L530.8 333.3L531.3 333.6L531.8 333.9L532.3 334.3L532.8 335.1L533.3 336.3L533.6 337.0" stroke="#000000"/>
<path d="M38.1 9.0L46.4 9.0L46.9 19.8L47.4 30.3L47.9 40.4L48.4 50.3L48.9 59.9L49.4 69.2L49.9 78.2L50.4 86.8L50.9 95.0L51.4 103.4L51.9 112.2L52.4 121.6L52.9 129.4L53.4 134.9L53.9 138.6L54.4 141.5L54.9 144.4L55.4 147.3L55.9 150.0L56.4 153.4L56.9 159.3L57.4 164.9L57.9 166.9L58.4 167.9L58.9 168.2L59.4 168.2L59.9 168.3L60.4 168.4L60.9 168.9L61.4 174.0L61.9 179.1L62.4 183.7L62.9 187.5L63.4 190.5L63.9 193.0L64.4 195.1L64.9 197.0L65.4 198.9L65.9 201.0L66.4 203.3L66.9 205.8L67.4 208.4L67.9 211.0L68.4 213.5L68.9 215.9L69.4 218.1L69.9 220.0L70.4 221.8L70.9 223.7L71.4 225.5L71.9 227.4L72.4 229.2L72.9 230.9L73.4 232.6L73.9 234.0L74.4 235.3L74.9 236.4L75.4 237.2L75.9 237.8L76.4 238.0L76.9 237.8L77.4 236.9L77.9 235.4L78.4 233.5L78.9 231.2L79.4 228.8L79.9 226.2L80.4 223.7L80.9 221.4L81.4 219.3L81.9 217.7L82.4 216.5L82.9 216.0L83.4 216.1L83.9 216.4L84.4 216.8L84.9 217.5L85.4 218.3L85.9 219.2L86.4 220.1L86.9 221.2L87.4 222.2L87.9 223.3L88.4 224.3L88.9 225.2L89.4 226.1L89.9 226.9L90.4 227.5L90.9 228.3L91.4 229.0L91.9 229.8L92.4 230.5L92.9 231.3L93.4 232.0L93.9 232.7L94.4 233.3L94.9 233.9L95.4 234.3L95.9 234.7L96.4 234.9L96.9 235.0L97.4 235.0L97.9 234.8L98.4 234.6L98.9 234.3L99.4 233.9L99.9 233.5L100.4 233.1L100.9 232.7L101.4 232.2L101.9 231.9L102.4 231.5L102.9 231.3L103.4 231.1L103.9 231.0L104.4 231.6L104.9 233.7L105.4 236.8L105.9 240.4L106.4 243.8L106.9 246.6L107.4 248.6L107.9 250.7L108.4 252.7L108.9 254.7L109.4 256.7L109.9 258.5L110.4 260.1L110.9 261.5L111.4 262.7L111.9 263.5L112.4 263.9L112.9 264.0L113.4 263.7L113.9 263.1L114.4 262.3L114.9 261.2L115.4 260.0L115.9 258.5L116.4 256.9L116.9 255.2L117.4 253.3L117.9 251.4L118.4 249.4L118.9 247.4L119.4 245.4L119.9 243.4L120.4 241.2L120.9 238.5L121.4 235.3L121.9 231.9L122.4 228.4L122.9 224.9L123.4 221.6L123.9 218.6L124.4 216.1L124.9 214.3L125.4 213.0L125.9 211.7L126.4 210.5L126.9 209.3L127.4 208.2L127.9 207.2L128.4 206.3L128.9 205.6L129.4 204.9L129.9 204.5L130.4 204.1L130.9 204.0L131.4 204.0L131.9 204.2L132.4 204.5L132.9 204.9L133.4 205.3L133.9 205.9L134.4 206.4L134.9 206.9L135.4 207.4L135.9 207.9L136.4 208.4L136.9 208.9L137.4 209.6L137.9 210.2L138.4 210.9L138.9 211.5L139.4 212.2L139.9 212.7L140.4 213.2L140.9 213.6L141.4 213.9L141.9 214.0L142.4 213.9L142.9 213.7L143.4 213.4L143.9 212.9L144.4 212.3L144.9 211.7L145.4 211.1L145.9 210.4L146.4 209.7L146.9 209.0L147.4 208.4L147.9 207.9L148.4 207.5L148.9 207.2L149.4 207.0L149.9 207.2L150.4 208.5L150.9 210.6L151.4 213.2L151.9 216.0L152.4 218.6L152.9 220.7L153.4 222.3L153.9 223.9L154.4 225.5L154.9 227.1L155.4 228.6L155.9 230.0L156.4 231.2L156.9 232.1L157.4 232.7L157.9 233.0L158.4 232.9L158.9 232.6L159.4 232.0L159.9 231.4L160.4 230.6L160.9 229.9L161.4 229.2L161.9 228.6L162.4 228.2L162.9 228.0L163.4 228.2L163.9 229.0L164.4 230.3L164.9 232.0L165.4 234.0L165.9 236.1L166.4 238.4L166.9 240.6L167.4 242.9L167.9 245.8L168.4 249.1L168.9 252.4L169.4 255.6L169.9 258.5L170.4 261.1L170.9 264.0L171.4 266.9L171.9 269.3L172.4 271.1L172.9 272.0L173.4 271.9L173.9 271.8L174.4 271.4L174.9 271.0L175.4 270.4L175.9 269.8L176.4 269.0L176.9 268.3L177.4 267.4L177.9 266.6L178.4 265.7L178.9 264.8L179.4 264.0L179.9 263.2L180.4 262.3L180.9 261.4L181.4 260.5L181.9 259.5L182.4 258.5L182.9 257.4L183.4 256.3L183.9 255.3L184.4 254.2L184.9 253.2L185.4 252.1L185.9 250.9L186.4 249.7L186.9 248.4L187.4 247.1L187.9 246.0L188.4 245.1L188.9 244.4L189.4 244.0L189.9 244.1L190.4 244.4L190.9 245.1L191.4 245.9L191.9 246.9L192.4 247.9L192.9 249.0L193.4 250.0L193.9 250.8L194.4 251.6L194.9 252.5L195.4 253.5L195.9 254.3L196.4 255.1L196.9 255.7L197.4 256.0L197.9 255.9L198.4 255.1L198.9 253.7L199.4 251.9L199.9 249.7L200.4 247.3L200.9 244.7L201.4 242.1L201.9 239.6L202.4 237.3L202.9 235.3L203.4 233.6L203.9 231.7L204.4 229.7L204.9 227.7L205.4 225.8L205.9 224.0L206.4 222.4L206.9 221.2L207.4 220.4L207.9 220.0L208.4 220.2L208.9 220.7L209.4 221.6L209.9 222.8L210.4 224.1L210.9 225.5L211.4 226.8L211.9 228.0L212.4 229.0L212.9 229.9L213.4 230.8L213.9 231.8L214.4 232.7L214.9 233.5L215.4 234.2L215.9 234.7L216.4 235.0L216.9 234.9L217.4 234.0L217.9 232.7L218.4 230.9L218.9 228.8L219.4 226.7L219.9 224.8L220.4 223.0L220.9 221.7L221.4 221.1L221.9 221.1L222.4 221.4L222.9 222.0L223.4 222.7L223.9 223.7L224.4 224.7L224.9 225.8L225.4 226.9L225.9 228.0L226.4 229.0L226.9 229.8L227.4 230.6L227.9 231.3L228.4 232.0L228.9 232.7L229.4 233.4L229.9 234.1L230.4 234.8L230.9 235.5L231.4 236.2L231.9 236.9L232.4 237.6L232.9 238.4L233.4 239.4L233.9 240.3L234.4 241.2L234.9 242.0L235.4 242.8L235.9 243.4L236.4 243.8L236.9 244.0L237.4 244.0L237.9 243.8L238.4 243.5L238.9 243.1L239.4 242.7L239.9 242.1L240.4 240.8L240.9 237.8L241.4 233.9L241.9 229.9L242.4 226.7L242.9 225.1L243.4 225.3L243.9 226.6L244.4 228.5L244.9 230.9L245.4 233.7L245.9 236.4L246.4 239.7L246.9 244.3L247.4 249.5L247.9 254.7L248.4 259.3L248.9 262.6L249.4 264.6L249.9 266.4L250.4 268.2L250.9 269.8L251.4 271.2L251.9 272.4L252.4 273.5L252.9 274.3L253.4 274.8L253.9 275.0L254.4 275.0L254.9 274.8L255.4 274.6L255.9 274.2L256.4 273.8L256.9 273.3L257.4 272.8L257.9 272.1L258.4 271.0L258.9 268.8L259.4 265.9L259.9 262.9L260.4 260.2L260.9 258.2L261.4 257.2L261.9 256.4L262.4 255.7L262.9 255.1L263.4 254.6L263.9 254.2L264.4 253.8L264.9 253.4L265.4 253.1L265.9 252.8L266.4 252.5L266.9 252.1L267.4 251.6L267.9 251.1L268.4 250.4L268.9 249.5L269.4 248.3L269.9 247.0L270.4 245.5L270.9 244.1L271.4 242.7L271.9 241.3L272.4 240.1L272.9 239.2L273.4 238.4L273.9 237.5L274.4 236.7L274.9 235.9L275.4 235.2L275.9 234.4L276.4 233.8L276.9 233.2L277.4 232.7L277.9 232.4L278.4 232.1L278.9 232.0L279.4 232.0L279.9 232.1L280.4 232.2L280.9 232.3L281.4 232.4L281.9 232.6L282.4 232.8L282.9 233.0L283.4 233.2L283.9 233.7L284.4 234.4L284.9 235.1L285.4 235.7L285.9 236.3L286.4 236.8L286.9 237.0L287.4 236.8L287.9 236.3L288.4 235.4L288.9 234.3L289.4 233.1L289.9 231.9L290.4 230.9L290.9 230.1L291.4 229.6L291.9 229.0L292.4 228.5L292.9 228.1L293.4 227.7L293.9 227.3L294.4 227.1L294.9 227.0L295.4 227.3L295.9 228.3L296.4 229.8L296.9 231.5L297.4 233.3L297.9 234.8L298.4 235.9L298.9 237.1L299.4 238.3L299.9 239.5L300.4 240.6L300.9 241.7L301.4 242.6L301.9 243.5L302.4 244.3L302.9 244.9L303.4 245.4L303.9 245.9L304.4 246.4L304.9 246.9L305.4 247.3L305.9 247.7L306.4 248.0L306.9 248.4L307.4 248.6L307.9 248.8L308.4 248.9L308.9 249.0L309.4 249.0L309.9 248.9L310.4 248.7L310.9 248.5L311.4 248.2L311.9 247.8L312.4 247.5L312.9 247.0L313.4 246.6L313.9 246.1L314.4 245.6L314.9 245.1L315.4 244.6L315.9 243.9L316.4 243.2L316.9 242.3L317.4 241.3L317.9 240.1L318.4 238.8L318.9 237.3L319.4 235.3L319.9 232.1L320.4 228.2L320.9 223.9L321.4 219.6L321.9 215.7L322.4 212.1L322.9 208.2L323.4 204.7L323.9 202.3L324.4 201.0L324.9 199.8L325.4 198.8L325.9 197.9L326.4 197.1L326.9 196.5L327.4 196.2L327.9 196.0L328.4 196.1L328.9 196.4L329.4 196.8L329.9 197.4L330.4 198.2L330.9 199.0L331.4 199.9L331.9 200.8L332.4 201.9L332.9 203.5L333.4 205.3L333.9 207.2L334.4 209.1L334.9 210.7L335.4 212.0L335.9 213.3L336.4 214.4L336.9 215.5L337.4 216.6L337.9 217.6L338.4 218.7L338.9 219.8L339.4 220.9L339.9 222.1L340.4 223.4L340.9 224.6L341.4 225.8L341.9 226.9L342.4 227.9L342.9 228.8L343.4 229.7L343.9 230.5L344.4 231.4L344.9 232.2L345.4 232.9L345.9 233.4L346.4 233.8L346.9 234.0L347.4 233.7L347.9 232.5L348.4 230.8L348.9 229.1L349.4 227.7L349.9 227.0L350.4 227.0L350.9 227.1L351.4 227.3L351.9 227.5L352.4 227.8L352.9 228.1L353.4 228.5L353.9 228.9L354.4 229.7L354.9 231.3L355.4 233.5L355.9 235.9L356.4 238.1L356.9 239.9L357.4 240.9L357.9 241.0L358.4 241.0L358.9 241.0L359.4 240.8L359.9 240.1L360.4 238.9L360.9 237.5L361.4 235.9L361.9 234.3L362.4 232.7L362.9 230.7L363.4 228.5L363.9 226.2L364.4 223.8L364.9 221.5L365.4 219.1L365.9 216.4L366.4 213.7L366.9 211.1L367.4 208.9L367.9 207.2L368.4 206.1L368.9 205.1L369.4 204.4L369.9 204.0L370.4 204.6L370.9 206.6L371.4 209.4L371.9 212.4L372.4 215.4L372.9 219.0L373.4 222.9L373.9 227.0L374.4 230.9L374.9 234.4L375.4 237.4L375.9 240.4L376.4 243.2L376.9 245.9L377.4 248.3L377.9 250.6L378.4 252.8L378.9 255.0L379.4 256.0L379.9 255.7L380.4 254.8L380.9 253.6L381.4 252.1L381.9 250.6L382.4 249.3L382.9 248.2L383.4 247.4L383.9 246.5L384.4 245.7L384.9 244.9L385.4 244.2L385.9 243.5L386.4 242.9L386.9 242.4L387.4 242.1L387.9 242.0L388.4 242.1L388.9 242.5L389.4 243.0L389.9 243.7L390.4 244.4L390.9 244.9L391.4 245.4L391.9 245.9L392.4 246.4L392.9 246.8L393.4 247.3L393.9 247.6L394.4 247.9L394.9 248.0L395.4 247.9L395.9 247.4L396.4 246.7L396.9 245.7L397.4 244.5L397.9 243.3L398.4 241.6L398.9 239.0L399.4 235.7L399.9 232.1L400.4 228.6L400.9 225.5L401.4 222.8L401.9 220.0L402.4 217.2L402.9 214.6L403.4 212.6L403.9 211.2L404.4 210.4L404.9 209.7L405.4 209.2L405.9 209.0L406.4 209.6L406.9 211.7L407.4 214.8L407.9 218.5L408.4 222.2L408.9 225.5L409.4 228.2L409.9 231.1L410.4 234.0L410.9 236.9L411.4 239.6L411.9 241.9L412.4 243.7L412.9 244.9L413.4 245.5L413.9 246.1L414.4 246.6L414.9 247.1L415.4 247.4L415.9 247.7L416.4 247.9L416.9 248.0L417.4 247.7L417.9 246.7L418.4 245.2L418.9 243.4L419.4 241.3L419.9 239.4L420.4 237.3L420.9 234.9L421.4 232.2L421.9 229.5L422.4 227.1L422.9 225.3L423.4 223.9L423.9 222.6L424.4 221.4L424.9 220.5L425.4 220.0L425.9 220.2L426.4 221.3L426.9 223.1L427.4 225.3L427.9 227.6L428.4 230.0L428.9 233.2L429.4 236.9L429.9 240.5L430.4 243.9L430.9 246.6L431.4 248.6L431.9 250.3L432.4 251.9L432.9 253.3L433.4 254.6L433.9 255.8L434.4 257.0L434.9 258.0L435.4 257.9L435.9 257.7L436.4 257.4L436.9 256.9L437.4 256.4L437.9 255.8L438.4 255.2L438.9 254.6L439.4 253.9L439.9 253.0L440.4 251.9L440.9 250.8L441.4 249.7L441.9 248.7L442.4 247.9L442.9 247.5L443.4 247.4L443.9 247.3L444.4 247.3L444.9 247.2L445.4 247.2L445.9 247.2L446.4 247.1L446.9 247.0L447.4 246.9L447.9 246.8L448.4 246.6L448.9 246.5L449.4 246.2L449.9 245.9L450.4 245.6L450.9 245.1L451.4 243.5L451.9 239.6L452.4 235.0L452.9 231.4L453.4 229.5L453.9 227.9L454.4 226.6L454.9 226.0L455.4 226.5L455.9 228.1L456.4 230.3L456.9 232.6L457.4 234.7L457.9 237.1L458.4 239.7L458.9 242.2L459.4 244.6L459.9 246.6L460.4 248.3L460.9 249.9L461.4 251.3L461.9 252.6L462.4 253.8L462.9 254.8L463.4 255.8L463.9 256.6L464.4 257.0L464.9 256.7L465.4 255.8L465.9 254.5L466.4 252.9L466.9 251.3L467.4 249.4L467.9 246.5L468.4 243.3L468.9 240.0L469.4 237.2L469.9 235.2L470.4 234.2L470.9 233.3L471.4 232.6L471.9 232.0L472.4 231.5L472.9 231.1L473.4 230.7L473.9 230.4L474.4 230.1L474.9 230.0L475.4 230.3L475.9 231.4L476.4 233.0L476.9 234.8L477.4 236.5L477.9 237.8L478.4 238.7L478.9 239.6L479.4 240.4L479.9 241.2L480.4 241.9L480.9 242.5L481.4 242.8L481.9 243.0L482.4 243.0L482.9 242.9L483.4 242.7L483.9 242.5L484.4 242.4L484.9 242.2L485.4 242.1L485.9 242.0L486.4 242.0L486.9 242.2L487.4 242.5L487.9 242.8L488.4 243.1L488.9 243.5L489.4 243.8L489.9 244.0L490.4 244.1L490.9 244.3L491.4 244.4L491.9 244.5L492.4 244.7L492.9 244.8L493.4 244.9L493.9 244.9L494.4 245.0L494.9 245.0L495.4 245.0L495.9 244.8L496.4 244.5L496.9 244.2L497.4 243.9L497.9 243.6L498.4 243.3L498.9 243.0L499.4 242.9L499.9 242.8L500.4 242.7L500.9 242.6L501.4 242.5L501.9 242.4L502.4 242.2L502.9 242.0L503.4 241.5L503.9 240.4L504.4 238.7L504.9 236.9L505.4 235.0L505.9 233.3L506.4 231.7L506.9 230.0L507.4 228.3L507.9 226.9L508.4 226.1L508.9 226.2L509.4 227.4L509.9 229.2L510.4 231.2L510.9 232.8L511.4 233.9L511.9 235.0L512.4 236.1L512.9 237.2L513.4 238.1L513.9 238.9L514.4 239.5L514.9 239.9L515.4 240.2L515.9 240.5L516.4 240.7L516.9 240.8L517.4 240.9L517.9 241.0L518.4 240.9L518.9 240.6L519.4 240.1L519.9 239.6L520.4 239.2L520.9 239.0L521.4 239.1L521.9 239.6L522.4 240.4L522.9 241.1L523.4 241.7L523.9 242.0L524.4 241.6L524.9 240.4L525.4 238.6L525.9 236.7L526.4 235.1L526.9 234.1L527.4 233.8L527.9 233.5L528.4 233.3L528.9 233.2L529.4 233.0L529.9 233.0L530.4 233.1L530.9 233.3L531.4 233.7L531.9 234.3L532.4 235.0L532.9 235.7L533.4 236.6L533.6 237.0" stroke="#0000ff" stroke-dasharray="6 1.6 2.4 1.6"/>
<path d="M38.1 9.0L46.5 9.0L47.0 20.2L47.5 31.0L48.0 41.4L48.5 51.3L49.0 60.7L49.5 69.7L50.0 78.3L50.5 86.7L51.0 95.2L51.5 102.9L52.0 109.2L52.5 113.4L53.0 116.1L53.5 118.4L54.0 121.0L54.5 123.8L55.0 126.5L55.5 129.2L56.0 131.9L56.5 134.6L57.0 137.1L57.5 139.9L58.0 143.4L58.5 147.1L59.0 149.9L59.5 151.8L60.0 153.2L60.5 154.5L61.0 155.6L61.5 156.7L62.0 158.0L62.5 159.6L63.0 161.5L63.5 163.8L64.0 166.4L64.5 169.3L65.0 172.3L65.5 175.5L66.0 178.7L66.5 182.1L67.0 185.4L67.5 188.6L68.0 191.8L68.5 195.1L69.0 198.5L69.5 202.0L70.0 205.4L70.5 208.9L71.0 212.4L71.5 215.9L72.0 219.2L72.5 222.8L73.0 226.8L73.5 231.0L74.0 235.2L74.5 239.0L75.0 242.1L75.5 244.1L76.0 244.9L76.5 244.7L77.0 244.4L77.5 243.8L78.0 243.1L78.5 242.2L79.0 241.3L79.5 240.4L80.0 239.4L80.5 238.5L81.0 237.6L81.5 236.9L82.0 236.4L82.5 236.0L83.0 235.9L83.5 236.0L84.0 236.5L84.5 237.2L85.0 238.1L85.5 239.2L86.0 240.5L86.5 241.9L87.0 243.4L87.5 245.0L88.0 246.7L88.5 248.3L89.0 249.9L89.5 251.4L90.0 252.8L90.5 254.3L91.0 256.0L91.5 257.8L92.0 259.8L92.5 261.7L93.0 263.7L93.5 265.5L94.0 267.2L94.5 268.8L95.0 270.1L95.5 271.1L96.0 271.8L96.5 272.3L97.0 272.6L97.5 272.9L98.0 273.2L98.5 273.4L99.0 273.6L99.5 273.7L100.0 273.9L100.5 274.1L101.0 274.3L101.5 274.5L102.0 274.8L102.5 275.2L103.0 275.7L103.5 276.5L104.0 277.9L104.5 279.7L105.0 281.8L105.5 284.1L106.0 286.4L106.5 288.5L107.0 290.5L107.5 292.4L108.0 294.5L108.5 296.8L109.0 299.1L109.5 301.4L110.0 303.6L110.5 305.7L111.0 307.5L111.5 309.0L112.0 310.2L112.5 311.0L113.0 311.2L113.5 311.1L114.0 310.8L114.5 310.3L115.0 309.6L115.5 308.8L116.0 307.9L116.5 307.0L117.0 306.0L117.5 305.0L118.0 304.0L118.5 302.9L119.0 301.6L119.5 300.1L120.0 298.4L120.5 296.6L121.0 294.7L121.5 292.8L122.0 290.9L122.5 289.1L123.0 287.3L123.5 285.6L124.0 284.1L124.5 282.8L125.0 281.7L125.5 280.8L126.0 279.8L126.5 278.8L127.0 277.9L127.5 277.0L128.0 276.2L128.5 275.4L129.0 274.8L129.5 274.3L130.0 273.8L130.5 273.6L131.0 273.5L131.5 273.5L132.0 273.6L132.5 273.8L133.0 274.0L133.5 274.2L134.0 274.5L134.5 274.8L135.0 275.2L135.5 275.5L136.0 275.8L136.5 276.2L137.0 276.5L137.5 276.8L138.0 277.3L138.5 277.8L139.0 278.3L139.5 278.9L140.0 279.4L140.5 280.0L141.0 280.4L141.5 280.9L142.0 281.2L142.5 281.4L143.0 281.5L143.5 281.4L144.0 281.1L144.5 280.7L145.0 280.2L145.5 279.6L146.0 279.0L146.5 278.3L147.0 277.7L147.5 277.2L148.0 276.8L148.5 276.5L149.0 276.4L149.5 276.8L150.0 277.6L150.5 278.9L151.0 280.5L151.5 282.3L152.0 284.1L152.5 285.9L153.0 287.4L153.5 289.0L154.0 290.8L154.5 292.8L155.0 294.8L155.5 296.7L156.0 298.5L156.5 300.1L157.0 301.3L157.5 302.1L158.0 302.4L158.5 302.4L159.0 302.3L159.5 302.2L160.0 302.1L160.5 301.9L161.0 301.8L161.5 301.6L162.0 301.5L162.5 301.4L163.0 301.4L163.5 301.7L164.0 302.5L164.5 303.8L165.0 305.5L165.5 307.3L166.0 309.3L166.5 311.4L167.0 313.4L167.5 315.6L168.0 318.3L168.5 321.2L169.0 324.2L169.5 327.0L170.0 329.4L170.5 331.7L171.0 334.2L171.5 336.5L172.0 338.5L172.5 339.9L173.0 340.4L173.5 340.1L174.0 339.4L174.5 338.5L175.0 337.4L175.5 336.3L176.0 335.3L176.5 334.6L177.0 334.4L177.5 334.4L178.0 334.4L178.5 334.4L179.0 334.4L179.5 334.4L180.0 334.4L180.5 334.4L181.0 334.4L181.5 334.3L182.0 334.3L182.5 334.3L183.0 334.3L183.5 334.0L184.0 333.0L184.5 331.7L185.0 330.3L185.5 329.1L186.0 328.3L186.5 327.9L187.0 327.5L187.5 327.1L188.0 326.8L188.5 326.6L189.0 326.4L189.5 326.3L190.0 326.4L190.5 326.7L191.0 327.1L191.5 327.7L192.0 328.4L192.5 329.2L193.0 329.9L193.5 330.6L194.0 331.3L194.5 332.0L195.0 332.9L195.5 333.8L196.0 334.7L196.5 335.5L197.0 336.0L197.5 336.3L198.0 336.2L198.5 335.6L199.0 334.7L199.5 333.4L200.0 332.0L200.5 330.4L201.0 328.7L201.5 327.0L202.0 325.3L202.5 323.7L203.0 322.3L203.5 320.9L204.0 319.3L204.5 317.6L205.0 315.8L205.5 314.2L206.0 312.6L206.5 311.3L207.0 310.2L207.5 309.5L208.0 309.3L208.5 309.5L209.0 309.9L209.5 310.7L210.0 311.6L210.5 312.6L211.0 313.7L211.5 314.7L212.0 315.6L212.5 316.4L213.0 317.1L213.5 317.9L214.0 318.7L214.5 319.5L215.0 320.1L215.5 320.7L216.0 321.1L216.5 321.2L217.0 321.0L217.5 320.1L218.0 318.7L218.5 317.0L219.0 315.0L219.5 312.9L220.0 310.9L220.5 309.1L221.0 307.6L221.5 306.6L222.0 306.2L222.5 306.4L223.0 306.9L223.5 307.7L224.0 308.7L224.5 309.8L225.0 311.0L225.5 312.2L226.0 313.4L226.5 314.4L227.0 315.2L227.5 315.9L228.0 316.6L228.5 317.2L229.0 317.7L229.5 318.3L230.0 318.9L230.5 319.4L231.0 320.0L231.5 320.6L232.0 321.2L232.5 321.9L233.0 322.8L233.5 323.7L234.0 324.6L234.5 325.5L235.0 326.3L235.5 327.1L236.0 327.7L236.5 328.0L237.0 328.2L237.5 328.0L238.0 327.6L238.5 327.0L239.0 326.1L239.5 325.2L240.0 324.2L240.5 322.4L241.0 319.8L241.5 316.9L242.0 314.4L242.5 313.2L243.0 313.4L243.5 314.1L244.0 315.3L244.5 316.8L245.0 318.5L245.5 320.3L246.0 322.2L246.5 324.4L247.0 327.3L247.5 330.7L248.0 334.3L248.5 337.9L249.0 341.3L249.5 344.1L250.0 346.1L250.5 347.8L251.0 349.3L251.5 350.9L252.0 352.3L252.5 353.7L253.0 354.9L253.5 355.9L254.0 356.8L254.5 357.5L255.0 357.9L255.5 358.1L256.0 358.0L256.5 357.4L257.0 356.5L257.5 355.4L258.0 354.2L258.5 353.1L259.0 352.1L259.5 351.2L260.0 350.3L260.5 349.3L261.0 348.3L261.5 347.4L262.0 346.7L262.5 346.3L263.0 346.1L263.5 346.2L264.0 346.4L264.5 346.7L265.0 347.1L265.5 347.5L266.0 347.8L266.5 348.0L267.0 348.1L267.5 347.9L268.0 347.5L268.5 346.9L269.0 346.0L269.5 345.1L270.0 344.0L270.5 342.9L271.0 341.8L271.5 340.7L272.0 339.7L272.5 338.8L273.0 338.1L273.5 337.4L274.0 336.8L274.5 336.1L275.0 335.4L275.5 334.8L276.0 334.2L276.5 333.8L277.0 333.4L277.5 333.2L278.0 333.1L278.5 333.1L279.0 333.1L279.5 333.1L280.0 333.1L280.5 333.1L281.0 333.1L281.5 333.1L282.0 333.1L282.5 333.1L283.0 333.1L283.5 333.1L284.0 333.4L284.5 333.8L285.0 334.3L285.5 334.7L286.0 335.2L286.5 335.6L287.0 335.9L287.5 336.0L288.0 335.9L288.5 335.5L289.0 334.9L289.5 334.3L290.0 333.7L290.5 333.2L291.0 333.0L291.5 333.0L292.0 333.0L292.5 333.0L293.0 333.0L293.5 333.0L294.0 333.0L294.5 333.0L295.0 333.0L295.5 333.2L296.0 333.5L296.5 334.1L297.0 334.8L297.5 335.6L298.0 336.4L298.5 337.3L299.0 338.0L299.5 338.7L300.0 339.5L300.5 340.4L301.0 341.2L301.5 342.1L302.0 343.0L302.5 343.8L303.0 344.6L303.5 345.3L304.0 346.0L304.5 346.6L305.0 347.2L305.5 347.8L306.0 348.4L306.5 348.9L307.0 349.4L307.5 349.9L308.0 350.3L308.5 350.7L309.0 351.0L309.5 351.3L310.0 351.6L310.5 351.8L311.0 352.1L311.5 352.3L312.0 352.5L312.5 352.7L313.0 352.9L313.5 352.9L314.0 353.0L314.5 352.8L315.0 352.4L315.5 351.8L316.0 350.9L316.5 349.9L317.0 348.7L317.5 347.4L318.0 346.0L318.5 343.7L319.0 340.3L319.5 336.2L320.0 331.8L320.5 327.5L321.0 324.0L321.5 320.8L322.0 317.6L322.5 314.5L323.0 311.8L323.5 309.5L324.0 307.9L324.5 306.8L325.0 305.7L325.5 304.6L326.0 303.7L326.5 303.0L327.0 302.4L327.5 302.1L328.0 301.9L328.5 302.2L329.0 302.7L329.5 303.3L330.0 303.9L330.5 304.4L331.0 304.8L331.5 305.3L332.0 305.7L332.5 306.3L333.0 306.9L333.5 307.8L334.0 309.0L334.5 310.4L335.0 312.0L335.5 313.6L336.0 315.2L336.5 316.6L337.0 317.9L337.5 319.1L338.0 320.2L338.5 321.2L339.0 322.2L339.5 323.2L340.0 324.2L340.5 325.1L341.0 326.1L341.5 327.0L342.0 327.9L342.5 328.9L343.0 330.0L343.5 331.2L344.0 332.3L344.5 333.3L345.0 334.2L345.5 334.7L346.0 334.9L346.5 334.6L347.0 333.8L347.5 332.7L348.0 331.4L348.5 330.1L349.0 329.0L349.5 328.2L350.0 327.9L350.5 327.9L351.0 328.0L351.5 328.2L352.0 328.5L352.5 328.8L353.0 329.1L353.5 329.5L354.0 329.9L354.5 330.6L355.0 331.9L355.5 333.5L356.0 335.3L356.5 337.0L357.0 338.5L357.5 339.5L358.0 339.9L358.5 339.7L359.0 339.1L359.5 338.3L360.0 337.2L360.5 336.0L361.0 334.6L361.5 333.2L362.0 331.9L362.5 330.3L363.0 328.4L363.5 326.2L364.0 323.8L364.5 321.5L365.0 319.3L365.5 317.4L366.0 315.9L366.5 314.5L367.0 313.2L367.5 311.9L368.0 310.7L368.5 309.8L369.0 309.2L369.5 308.9L370.0 309.1L370.5 310.0L371.0 311.5L371.5 313.4L372.0 315.5L372.5 317.7L373.0 319.8L373.5 322.1L374.0 324.8L374.5 327.8L375.0 330.9L375.5 334.1L376.0 337.0L376.5 339.6L377.0 341.8L377.5 343.8L378.0 345.9L378.5 347.8L379.0 349.3L379.5 350.4L380.0 350.8L380.5 350.7L381.0 350.5L381.5 350.1L382.0 349.6L382.5 349.1L383.0 348.6L383.5 348.2L384.0 347.8L384.5 347.5L385.0 347.2L385.5 346.8L386.0 346.5L386.5 346.2L387.0 346.0L387.5 345.9L388.0 345.8L388.5 345.9L389.0 346.2L389.5 346.7L390.0 347.3L390.5 348.0L391.0 348.6L391.5 349.2L392.0 349.8L392.5 350.4L393.0 351.0L393.5 351.7L394.0 352.2L394.5 352.6L395.0 352.8L395.5 352.5L396.0 351.7L396.5 350.4L397.0 349.0L397.5 347.4L398.0 345.8L398.5 344.0L399.0 341.9L399.5 339.4L400.0 336.9L400.5 334.3L401.0 331.8L401.5 329.6L402.0 327.8L402.5 326.1L403.0 324.4L403.5 322.8L404.0 321.3L404.5 320.0L405.0 319.2L405.5 318.8L406.0 319.0L406.5 320.1L407.0 321.6L407.5 323.6L408.0 325.7L408.5 327.8L409.0 329.8L409.5 331.7L410.0 333.8L410.5 336.1L411.0 338.3L411.5 340.5L412.0 342.6L412.5 344.3L413.0 345.8L413.5 347.0L414.0 348.2L414.5 349.4L415.0 350.5L415.5 351.4L416.0 352.1L416.5 352.6L417.0 352.7L417.5 352.6L418.0 352.1L418.5 351.5L419.0 350.7L419.5 349.7L420.0 348.7L420.5 347.4L421.0 345.4L421.5 343.2L422.0 340.9L422.5 339.0L423.0 337.7L423.5 336.9L424.0 336.1L424.5 335.4L425.0 335.0L425.5 334.7L426.0 335.0L426.5 336.0L427.0 337.4L427.5 339.1L428.0 340.7L428.5 342.5L429.0 344.7L429.5 347.1L430.0 349.5L430.5 351.7L431.0 353.7L431.5 355.6L432.0 357.5L432.5 359.4L433.0 361.0L433.5 362.1L434.0 362.7L434.5 362.9L435.0 363.1L435.5 363.2L436.0 363.2L436.5 363.2L437.0 363.2L437.5 363.1L438.0 363.1L438.5 363.0L439.0 362.9L439.5 362.8L440.0 362.7L440.5 362.5L441.0 362.0L441.5 361.4L442.0 360.8L442.5 360.1L443.0 359.5L443.5 359.0L444.0 358.7L444.5 358.5L445.0 358.4L445.5 358.3L446.0 358.2L446.5 358.1L447.0 358.0L447.5 357.9L448.0 357.7L448.5 357.4L449.0 357.1L449.5 356.7L450.0 356.1L450.5 355.5L451.0 354.7L451.5 352.8L452.0 349.8L452.5 346.7L453.0 344.7L453.5 343.6L454.0 342.6L454.5 341.9L455.0 341.7L455.5 342.3L456.0 344.0L456.5 345.9L457.0 347.7L457.5 349.1L458.0 350.5L458.5 351.9L459.0 353.2L459.5 354.5L460.0 355.7L460.5 356.9L461.0 358.2L461.5 359.4L462.0 360.6L462.5 361.6L463.0 362.3L463.5 362.6L464.0 362.5L464.5 361.8L465.0 360.8L465.5 359.7L466.0 358.6L466.5 357.5L467.0 356.2L467.5 354.7L468.0 353.3L468.5 351.9L469.0 350.6L469.5 349.5L470.0 348.2L470.5 347.1L471.0 346.0L471.5 345.2L472.0 344.6L472.5 344.3L473.0 343.9L473.5 343.7L474.0 343.6L474.5 343.8L475.0 344.3L475.5 345.1L476.0 345.9L476.5 346.8L477.0 347.6L477.5 348.5L478.0 349.4L478.5 350.4L479.0 351.3L479.5 352.1L480.0 352.6L480.5 353.0L481.0 353.4L481.5 353.7L482.0 354.0L482.5 354.3L483.0 354.4L483.5 354.6L484.0 354.6L484.5 354.6L485.0 354.6L485.5 354.6L486.0 354.6L486.5 354.6L487.0 354.6L487.5 354.6L488.0 354.6L488.5 354.6L489.0 354.4L489.5 354.3L490.0 354.1L490.5 353.9L491.0 353.7L491.5 353.6L492.0 353.6L492.5 353.7L493.0 353.9L493.5 354.2L494.0 354.6L494.5 355.0L495.0 355.3L495.5 355.5L496.0 355.6L496.5 355.6L497.0 355.5L497.5 355.4L498.0 355.3L498.5 355.1L499.0 354.9L499.5 354.8L500.0 354.6L500.5 354.4L501.0 354.1L501.5 353.8L502.0 353.4L502.5 353.0L503.0 352.6L503.5 352.0L504.0 351.1L504.5 350.2L505.0 349.2L505.5 348.3L506.0 347.6L506.5 346.9L507.0 346.2L507.5 345.6L508.0 345.1L508.5 344.7L509.0 344.6L509.5 344.9L510.0 345.8L510.5 346.9L511.0 348.3L511.5 349.5L512.0 350.5L512.5 351.4L513.0 352.2L513.5 353.0L514.0 353.7L514.5 354.2L515.0 354.5L515.5 354.7L516.0 354.9L516.5 355.0L517.0 355.1L517.5 355.2L518.0 355.2L518.5 355.4L519.0 355.5L519.5 355.8L520.0 356.0L520.5 356.4L521.0 356.7L521.5 357.1L522.0 357.5L522.5 358.0L523.0 358.7L523.5 359.3L524.0 359.9L524.5 360.4L525.0 360.5L525.5 359.8L526.0 358.1L526.5 356.1L527.0 354.5L527.5 353.4L528.0 352.3L528.5 351.3L529.0 350.7L529.5 350.5L530.0 350.7L530.5 351.0L531.0 351.4L531.5 351.9L532.0 352.5L532.5 353.2L533.0 354.2L533.5 355.3L533.6 355.5" stroke="#ff0000"/>
<path d="M38.1 9.0L46.5 9.0L47.0 20.2L47.5 31.0L48.0 41.4L48.5 51.3L49.0 60.7L49.5 69.8L50.0 78.3L50.5 86.8L51.0 95.2L51.5 103.0L52.0 109.3L52.5 113.4L53.0 116.2L53.5 118.5L54.0 121.1L54.5 123.8L55.0 126.5L55.5 129.3L56.0 132.0L56.5 134.6L57.0 137.2L57.5 140.0L58.0 143.4L58.5 147.1L59.0 150.0L59.5 151.8L60.0 153.3L60.5 154.5L61.0 155.6L61.5 156.8L62.0 158.1L62.5 159.6L63.0 161.6L63.5 163.9L64.0 166.5L64.5 169.3L65.0 172.4L65.5 175.6L66.0 178.8L66.5 182.2L67.0 185.5L67.5 188.7L68.0 191.9L68.5 195.2L69.0 198.6L69.5 202.1L70.0 205.5L70.5 209.0L71.0 212.5L71.5 216.0L72.0 219.3L72.5 222.9L73.0 226.9L73.5 231.2L74.0 235.3L74.5 239.1L75.0 242.2L75.5 244.2L76.0 245.0L76.5 244.9L77.0 244.5L77.5 243.9L78.0 243.2L78.5 242.4L79.0 241.5L79.5 240.5L80.0 239.5L80.5 238.6L81.0 237.8L81.5 237.1L82.0 236.5L82.5 236.1L83.0 236.0L83.5 236.2L84.0 236.6L84.5 237.3L85.0 238.2L85.5 239.4L86.0 240.7L86.5 242.1L87.0 243.6L87.5 245.2L88.0 246.8L88.5 248.4L89.0 250.0L89.5 251.6L90.0 253.0L90.5 254.5L91.0 256.2L91.5 258.0L92.0 259.9L92.5 261.9L93.0 263.8L93.5 265.7L94.0 267.4L94.5 269.0L95.0 270.3L95.5 271.3L96.0 272.0L96.5 272.4L97.0 272.8L97.5 273.1L98.0 273.4L98.5 273.6L99.0 273.8L99.5 273.9L100.0 274.1L100.5 274.3L101.0 274.5L101.5 274.8L102.0 275.1L102.5 275.5L103.0 276.0L103.5 276.9L104.0 278.3L104.5 280.1L105.0 282.2L105.5 284.5L106.0 286.8L106.5 289.0L107.0 291.0L107.5 292.9L108.0 295.1L108.5 297.3L109.0 299.7L109.5 302.0L110.0 304.2L110.5 306.3L111.0 308.2L111.5 309.7L112.0 310.9L112.5 311.7L113.0 312.0L113.5 311.9L114.0 311.6L114.5 311.1L115.0 310.4L115.5 309.7L116.0 308.8L116.5 307.9L117.0 306.9L117.5 306.0L118.0 305.0L118.5 303.9L119.0 302.6L119.5 301.1L120.0 299.5L120.5 297.7L121.0 295.8L121.5 294.0L122.0 292.1L122.5 290.2L123.0 288.5L123.5 286.8L124.0 285.3L124.5 284.1L125.0 283.0L125.5 282.1L126.0 281.1L126.5 280.2L127.0 279.3L127.5 278.4L128.0 277.6L128.5 276.9L129.0 276.3L129.5 275.7L130.0 275.3L130.5 275.1L131.0 275.0L131.5 275.0L132.0 275.1L132.5 275.3L133.0 275.5L133.5 275.7L134.0 276.0L134.5 276.3L135.0 276.7L135.5 277.0L136.0 277.3L136.5 277.7L137.0 278.0L137.5 278.4L138.0 278.8L138.5 279.3L139.0 279.9L139.5 280.4L140.0 281.0L140.5 281.5L141.0 282.0L141.5 282.4L142.0 282.7L142.5 282.9L143.0 283.0L143.5 282.9L144.0 282.6L144.5 282.2L145.0 281.7L145.5 281.1L146.0 280.5L146.5 279.9L147.0 279.3L147.5 278.8L148.0 278.4L148.5 278.1L149.0 278.0L149.5 278.3L150.0 279.2L150.5 280.5L151.0 282.1L151.5 283.8L152.0 285.7L152.5 287.4L153.0 289.0L153.5 290.6L154.0 292.4L154.5 294.3L155.0 296.3L155.5 298.3L156.0 300.1L156.5 301.7L157.0 302.9L157.5 303.7L158.0 304.0L158.5 304.0L159.0 303.9L159.5 303.8L160.0 303.6L160.5 303.5L161.0 303.4L161.5 303.2L162.0 303.1L162.5 303.0L163.0 303.0L163.5 303.3L164.0 304.1L164.5 305.4L165.0 307.1L165.5 308.9L166.0 310.9L166.5 313.0L167.0 315.0L167.5 317.2L168.0 319.9L168.5 322.8L169.0 325.8L169.5 328.6L170.0 331.0L170.5 333.3L171.0 335.8L171.5 338.1L172.0 340.1L172.5 341.5L173.0 342.0L173.5 341.7L174.0 341.1L174.5 340.1L175.0 339.0L175.5 337.9L176.0 336.9L176.5 336.3L177.0 336.0L177.5 336.0L178.0 336.0L178.5 336.0L179.0 336.0L179.5 336.0L180.0 336.0L180.5 336.0L181.0 336.0L181.5 336.0L182.0 336.0L182.5 336.0L183.0 336.0L183.5 335.6L184.0 334.6L184.5 333.3L185.0 331.9L185.5 330.8L186.0 330.0L186.5 329.6L187.0 329.2L187.5 328.8L188.0 328.5L188.5 328.2L189.0 328.1L189.5 328.0L190.0 328.1L190.5 328.4L191.0 328.8L191.5 329.4L192.0 330.1L192.5 330.8L193.0 331.6L193.5 332.3L194.0 333.0L194.5 333.7L195.0 334.6L195.5 335.5L196.0 336.4L196.5 337.2L197.0 337.7L197.5 338.0L198.0 337.9L198.5 337.3L199.0 336.4L199.5 335.1L200.0 333.7L200.5 332.1L201.0 330.4L201.5 328.7L202.0 327.0L202.5 325.4L203.0 324.0L203.5 322.6L204.0 321.0L204.5 319.3L205.0 317.6L205.5 315.9L206.0 314.3L206.5 313.0L207.0 311.9L207.5 311.2L208.0 311.0L208.5 311.2L209.0 311.7L209.5 312.4L210.0 313.3L210.5 314.4L211.0 315.4L211.5 316.5L212.0 317.4L212.5 318.1L213.0 318.9L213.5 319.7L214.0 320.5L214.5 321.2L215.0 321.9L215.5 322.4L216.0 322.8L216.5 323.0L217.0 322.8L217.5 321.9L218.0 320.5L218.5 318.7L219.0 316.7L219.5 314.7L220.0 312.6L220.5 310.8L221.0 309.4L221.5 308.4L222.0 308.0L222.5 308.2L223.0 308.7L223.5 309.5L224.0 310.5L224.5 311.6L225.0 312.8L225.5 314.0L226.0 315.1L226.5 316.2L227.0 317.0L227.5 317.7L228.0 318.3L228.5 318.9L229.0 319.5L229.5 320.1L230.0 320.6L230.5 321.2L231.0 321.8L231.5 322.4L232.0 323.0L232.5 323.7L233.0 324.6L233.5 325.5L234.0 326.4L234.5 327.3L235.0 328.2L235.5 328.9L236.0 329.5L236.5 329.9L237.0 330.0L237.5 329.8L238.0 329.4L238.5 328.8L239.0 327.9L239.5 327.0L240.0 326.0L240.5 324.3L241.0 321.6L241.5 318.7L242.0 316.3L242.5 315.0L243.0 315.2L243.5 315.9L244.0 317.1L244.5 318.6L245.0 320.3L245.5 322.2L246.0 324.0L246.5 326.2L247.0 329.2L247.5 332.6L248.0 336.2L248.5 339.8L249.0 343.1L249.5 345.9L250.0 348.0L250.5 349.6L251.0 351.2L251.5 352.7L252.0 354.2L252.5 355.5L253.0 356.7L253.5 357.8L254.0 358.7L254.5 359.4L255.0 359.8L255.5 360.0L256.0 359.8L256.5 359.2L257.0 358.3L257.5 357.2L258.0 356.1L258.5 354.9L259.0 354.0L259.5 353.1L260.0 352.1L260.5 351.1L261.0 350.2L261.5 349.3L262.0 348.6L262.5 348.2L263.0 348.0L263.5 348.1L264.0 348.3L264.5 348.6L265.0 349.0L265.5 349.4L266.0 349.7L266.5 349.9L267.0 350.0L267.5 349.9L268.0 349.4L268.5 348.8L269.0 348.0L269.5 347.0L270.0 345.9L270.5 344.8L271.0 343.7L271.5 342.6L272.0 341.6L272.5 340.7L273.0 340.0L273.5 339.4L274.0 338.7L274.5 338.0L275.0 337.3L275.5 336.7L276.0 336.2L276.5 335.7L277.0 335.3L277.5 335.1L278.0 335.0L278.5 335.0L279.0 335.0L279.5 335.0L280.0 335.0L280.5 335.0L281.0 335.0L281.5 335.0L282.0 335.0L282.5 335.0L283.0 335.0L283.5 335.1L284.0 335.4L284.5 335.7L285.0 336.2L285.5 336.7L286.0 337.2L286.5 337.6L287.0 337.9L287.5 338.0L288.0 337.9L288.5 337.5L289.0 336.9L289.5 336.2L290.0 335.6L290.5 335.2L291.0 335.0L291.5 335.0L292.0 335.0L292.5 335.0L293.0 335.0L293.5 335.0L294.0 335.0L294.5 335.0L295.0 335.0L295.5 335.1L296.0 335.5L296.5 336.1L297.0 336.8L297.5 337.6L298.0 338.4L298.5 339.3L299.0 340.0L299.5 340.7L300.0 341.5L300.5 342.4L301.0 343.2L301.5 344.1L302.0 345.0L302.5 345.8L303.0 346.6L303.5 347.3L304.0 348.0L304.5 348.6L305.0 349.2L305.5 349.8L306.0 350.4L306.5 350.9L307.0 351.4L307.5 351.9L308.0 352.3L308.5 352.7L309.0 353.0L309.5 353.3L310.0 353.6L310.5 353.9L311.0 354.1L311.5 354.4L312.0 354.6L312.5 354.7L313.0 354.9L313.5 355.0L314.0 355.0L314.5 354.9L315.0 354.5L315.5 353.8L316.0 353.0L316.5 351.9L317.0 350.7L317.5 349.4L318.0 348.0L318.5 345.8L319.0 342.4L319.5 338.2L320.0 333.8L320.5 329.6L321.0 326.0L321.5 322.8L322.0 319.6L322.5 316.6L323.0 313.8L323.5 311.6L324.0 310.0L324.5 308.8L325.0 307.7L325.5 306.7L326.0 305.8L326.5 305.1L327.0 304.5L327.5 304.1L328.0 304.0L328.5 304.2L329.0 304.8L329.5 305.4L330.0 306.0L330.5 306.5L331.0 306.9L331.5 307.3L332.0 307.8L332.5 308.3L333.0 309.0L333.5 309.9L334.0 311.1L334.5 312.5L335.0 314.1L335.5 315.7L336.0 317.2L336.5 318.7L337.0 320.0L337.5 321.1L338.0 322.2L338.5 323.3L339.0 324.3L339.5 325.3L340.0 326.3L340.5 327.2L341.0 328.1L341.5 329.1L342.0 330.0L342.5 331.0L343.0 332.1L343.5 333.3L344.0 334.4L344.5 335.4L345.0 336.3L345.5 336.8L346.0 337.0L346.5 336.7L347.0 335.9L347.5 334.8L348.0 333.5L348.5 332.2L349.0 331.1L349.5 330.3L350.0 330.0L350.5 330.0L351.0 330.2L351.5 330.3L352.0 330.6L352.5 330.9L353.0 331.2L353.5 331.6L354.0 332.0L354.5 332.7L355.0 334.0L355.5 335.7L356.0 337.4L356.5 339.1L357.0 340.6L357.5 341.6L358.0 342.0L358.5 341.8L359.0 341.2L359.5 340.4L360.0 339.3L360.5 338.1L361.0 336.8L361.5 335.4L362.0 334.0L362.5 332.4L363.0 330.5L363.5 328.3L364.0 326.0L364.5 323.6L365.0 321.5L365.5 319.5L366.0 318.0L366.5 316.7L367.0 315.3L367.5 314.0L368.0 312.9L368.5 312.0L369.0 311.3L369.5 311.0L370.0 311.3L370.5 312.2L371.0 313.7L371.5 315.6L372.0 317.7L372.5 319.9L373.0 322.0L373.5 324.3L374.0 327.0L374.5 330.0L375.0 333.1L375.5 336.2L376.0 339.2L376.5 341.8L377.0 344.0L377.5 346.0L378.0 348.0L378.5 349.9L379.0 351.5L379.5 352.6L380.0 353.0L380.5 352.9L381.0 352.6L381.5 352.3L382.0 351.8L382.5 351.3L383.0 350.8L383.5 350.4L384.0 350.0L384.5 349.7L385.0 349.3L385.5 349.0L386.0 348.7L386.5 348.4L387.0 348.2L387.5 348.1L388.0 348.0L388.5 348.1L389.0 348.4L389.5 348.9L390.0 349.5L390.5 350.1L391.0 350.8L391.5 351.4L392.0 352.0L392.5 352.6L393.0 353.2L393.5 353.9L394.0 354.4L394.5 354.8L395.0 355.0L395.5 354.7L396.0 353.9L396.5 352.6L397.0 351.2L397.5 349.6L398.0 348.0L398.5 346.2L399.0 344.1L399.5 341.7L400.0 339.1L400.5 336.5L401.0 334.0L401.5 331.8L402.0 330.0L402.5 328.3L403.0 326.6L403.5 325.0L404.0 323.5L404.5 322.3L405.0 321.4L405.5 321.0L406.0 321.3L406.5 322.3L407.0 323.8L407.5 325.8L408.0 327.9L408.5 330.1L409.0 332.0L409.5 333.9L410.0 336.0L410.5 338.3L411.0 340.6L411.5 342.8L412.0 344.8L412.5 346.6L413.0 348.0L413.5 349.2L414.0 350.5L414.5 351.6L415.0 352.7L415.5 353.6L416.0 354.4L416.5 354.8L417.0 355.0L417.5 354.8L418.0 354.4L418.5 353.7L419.0 352.9L419.5 352.0L420.0 351.0L420.5 349.6L421.0 347.7L421.5 345.4L422.0 343.2L422.5 341.3L423.0 340.0L423.5 339.1L424.0 338.4L424.5 337.7L425.0 337.2L425.5 337.0L426.0 337.3L426.5 338.2L427.0 339.7L427.5 341.3L428.0 343.0L428.5 344.8L429.0 347.0L429.5 349.3L430.0 351.8L430.5 354.0L431.0 356.0L431.5 357.9L432.0 359.8L432.5 361.7L433.0 363.3L433.5 364.4L434.0 365.0L434.5 365.2L435.0 365.4L435.5 365.5L436.0 365.5L436.5 365.5L437.0 365.5L437.5 365.4L438.0 365.4L438.5 365.3L439.0 365.2L439.5 365.1L440.0 365.0L440.5 364.8L441.0 364.3L441.5 363.7L442.0 363.1L442.5 362.4L443.0 361.8L443.5 361.3L444.0 361.0L444.5 360.8L445.0 360.7L445.5 360.6L446.0 360.5L446.5 360.4L447.0 360.3L447.5 360.2L448.0 360.0L448.5 359.8L449.0 359.4L449.5 359.0L450.0 358.5L450.5 357.8L451.0 357.0L451.5 355.2L452.0 352.1L452.5 349.0L453.0 347.0L453.5 345.9L454.0 344.9L454.5 344.3L455.0 344.0L455.5 344.7L456.0 346.3L456.5 348.3L457.0 350.0L457.5 351.4L458.0 352.8L458.5 354.2L459.0 355.6L459.5 356.8L460.0 358.0L460.5 359.2L461.0 360.5L461.5 361.8L462.0 363.0L462.5 364.0L463.0 364.7L463.5 365.0L464.0 364.8L464.5 364.2L465.0 363.2L465.5 362.1L466.0 361.0L466.5 359.9L467.0 358.5L467.5 357.1L468.0 355.6L468.5 354.2L469.0 353.0L469.5 351.8L470.0 350.6L470.5 349.4L471.0 348.4L471.5 347.6L472.0 347.0L472.5 346.6L473.0 346.3L473.5 346.1L474.0 346.0L474.5 346.2L475.0 346.7L475.5 347.4L476.0 348.3L476.5 349.2L477.0 350.0L477.5 350.8L478.0 351.8L478.5 352.8L479.0 353.7L479.5 354.5L480.0 355.0L480.5 355.4L481.0 355.8L481.5 356.1L482.0 356.4L482.5 356.6L483.0 356.8L483.5 357.0L484.0 357.0L484.5 357.0L485.0 357.0L485.5 357.0L486.0 357.0L486.5 357.0L487.0 357.0L487.5 357.0L488.0 357.0L488.5 357.0L489.0 356.8L489.5 356.7L490.0 356.5L490.5 356.3L491.0 356.2L491.5 356.0L492.0 356.0L492.5 356.1L493.0 356.3L493.5 356.6L494.0 357.0L494.5 357.4L495.0 357.7L495.5 357.9L496.0 358.0L496.5 358.0L497.0 357.9L497.5 357.8L498.0 357.7L498.5 357.5L499.0 357.4L499.5 357.2L500.0 357.0L500.5 356.8L501.0 356.5L501.5 356.2L502.0 355.9L502.5 355.5L503.0 355.0L503.5 354.4L504.0 353.6L504.5 352.6L505.0 351.6L505.5 350.7L506.0 350.0L506.5 349.3L507.0 348.7L507.5 348.0L508.0 347.5L508.5 347.1L509.0 347.0L509.5 347.3L510.0 348.2L510.5 349.4L511.0 350.7L511.5 352.0L512.0 353.0L512.5 353.8L513.0 354.7L513.5 355.4L514.0 356.1L514.5 356.7L515.0 357.0L515.5 357.2L516.0 357.3L516.5 357.4L517.0 357.5L517.5 357.6L518.0 357.7L518.5 357.8L519.0 358.0L519.5 358.2L520.0 358.5L520.5 358.8L521.0 359.2L521.5 359.6L522.0 360.0L522.5 360.5L523.0 361.1L523.5 361.8L524.0 362.4L524.5 362.8L525.0 363.0L525.5 362.3L526.0 360.5L526.5 358.5L527.0 357.0L527.5 355.9L528.0 354.8L528.5 353.8L529.0 353.2L529.5 353.0L530.0 353.2L530.5 353.5L531.0 353.9L531.5 354.4L532.0 355.0L532.5 355.7L533.0 356.7L533.5 357.8L533.6 358.0" stroke="#00ff00"/>
</g>
<g font-size="12.8px">
<text x="38.1" y="389.4" text-anchor="middle">0</text>
<text x="100.0" y="389.4" text-anchor="middle">500</text>
<text x="162.0" y="389.4" text-anchor="middle">1000</text>
<text x="223.9" y="389.4" text-anchor="middle">1500</text>
<text x="285.9" y="389.4" text-anchor="middle">2000</text>
<text x="347.8" y="389.4" text-anchor="middle">2500</text>
<text x="409.7" y="389.4" text-anchor="middle">3000</text>
<text x="471.7" y="389.4" text-anchor="middle">3500</text>
<text x="533.6" y="389.4" text-anchor="middle">4000</text>
<text x="33.2" y="14.5" text-anchor="end">0</text>
<text x="33.2" y="66.2" text-anchor="end">-1</text>
<text x="33.2" y="117.8" text-anchor="end">-2</text>
<text x="33.2" y="169.5" text-anchor="end">-3</text>
<text x="33.2" y="221.2" text-anchor="end">-4</text>
<text x="33.2" y="272.9" text-anchor="end">-5</text>
<text x="33.2" y="324.5" text-anchor="end">-6</text>
<text x="33.2" y="376.2" text-anchor="end">-7</text>
</g>
<text x="285.4" y="407.3" font-size="14px" text-anchor="middle" textLength="49.8" lengthAdjust="spacingAndGlyphs">iteration</text>
<text transform="translate(14.8 190.2) rotate(-90)" font-size="14px" text-anchor="middle" textLength="69" lengthAdjust="spacingAndGlyphs">NMSD(dB)</text>
<rect x="285.5" y="16.9" width="240.0" height="101.3" fill="#fff" stroke="#5e5e5e" stroke-width="1.2"/>
<path d="M288 28.0H317.2" stroke="#00ffff" stroke-width="2.5" fill="none" stroke-dasharray="6 1.6 2.4 1.6"/>
<text x="319.4" y="34.6" font-size="16px" fill="#000" stroke="#000" stroke-width=".4" textLength="92.2" lengthAdjust="spacingAndGlyphs">APSA(<tspan class="gk">μ</tspan>=0.3)</text>
<path d="M288 47.9H317.2" stroke="#000000" stroke-width="2.5" fill="none"/>
<text x="319.4" y="54.4" font-size="16px" fill="#000" stroke="#000" stroke-width=".4" textLength="150.3" lengthAdjust="spacingAndGlyphs">MVSS-APSA(<tspan class="gk">μ</tspan>0=0.6)</text>
<path d="M288 67.9H317.2" stroke="#0000ff" stroke-width="2.5" fill="none" stroke-dasharray="6 1.6 2.4 1.6"/>
<text x="319.4" y="74.3" font-size="16px" fill="#000" stroke="#000" stroke-width=".4" textLength="107.1" lengthAdjust="spacingAndGlyphs">H-APA(<tspan class="gk">μ</tspan>=0.05)</text>
<path d="M288 87.9H317.2" stroke="#ff0000" stroke-width="2.5" fill="none"/>
<text x="319.4" y="94.4" font-size="16px" fill="#000" stroke="#000" stroke-width=".4" textLength="189.1" lengthAdjust="spacingAndGlyphs">VSS-H-APA(<tspan class="gk">α</tspan>=0.1,<tspan class="gk">μ</tspan>0=0.6)</text>
<path d="M288 107.6H317.2" stroke="#00ff00" stroke-width="2.5" fill="none"/>
<text x="319.4" y="114.3" font-size="16px" fill="#000" stroke="#000" stroke-width=".4" textLength="202.2" lengthAdjust="spacingAndGlyphs">MVSS-H-APA(<tspan class="gk">α</tspan>=0.1,<tspan class="gk">μ</tspan>0=0.6)</text>
</svg></body></html>
